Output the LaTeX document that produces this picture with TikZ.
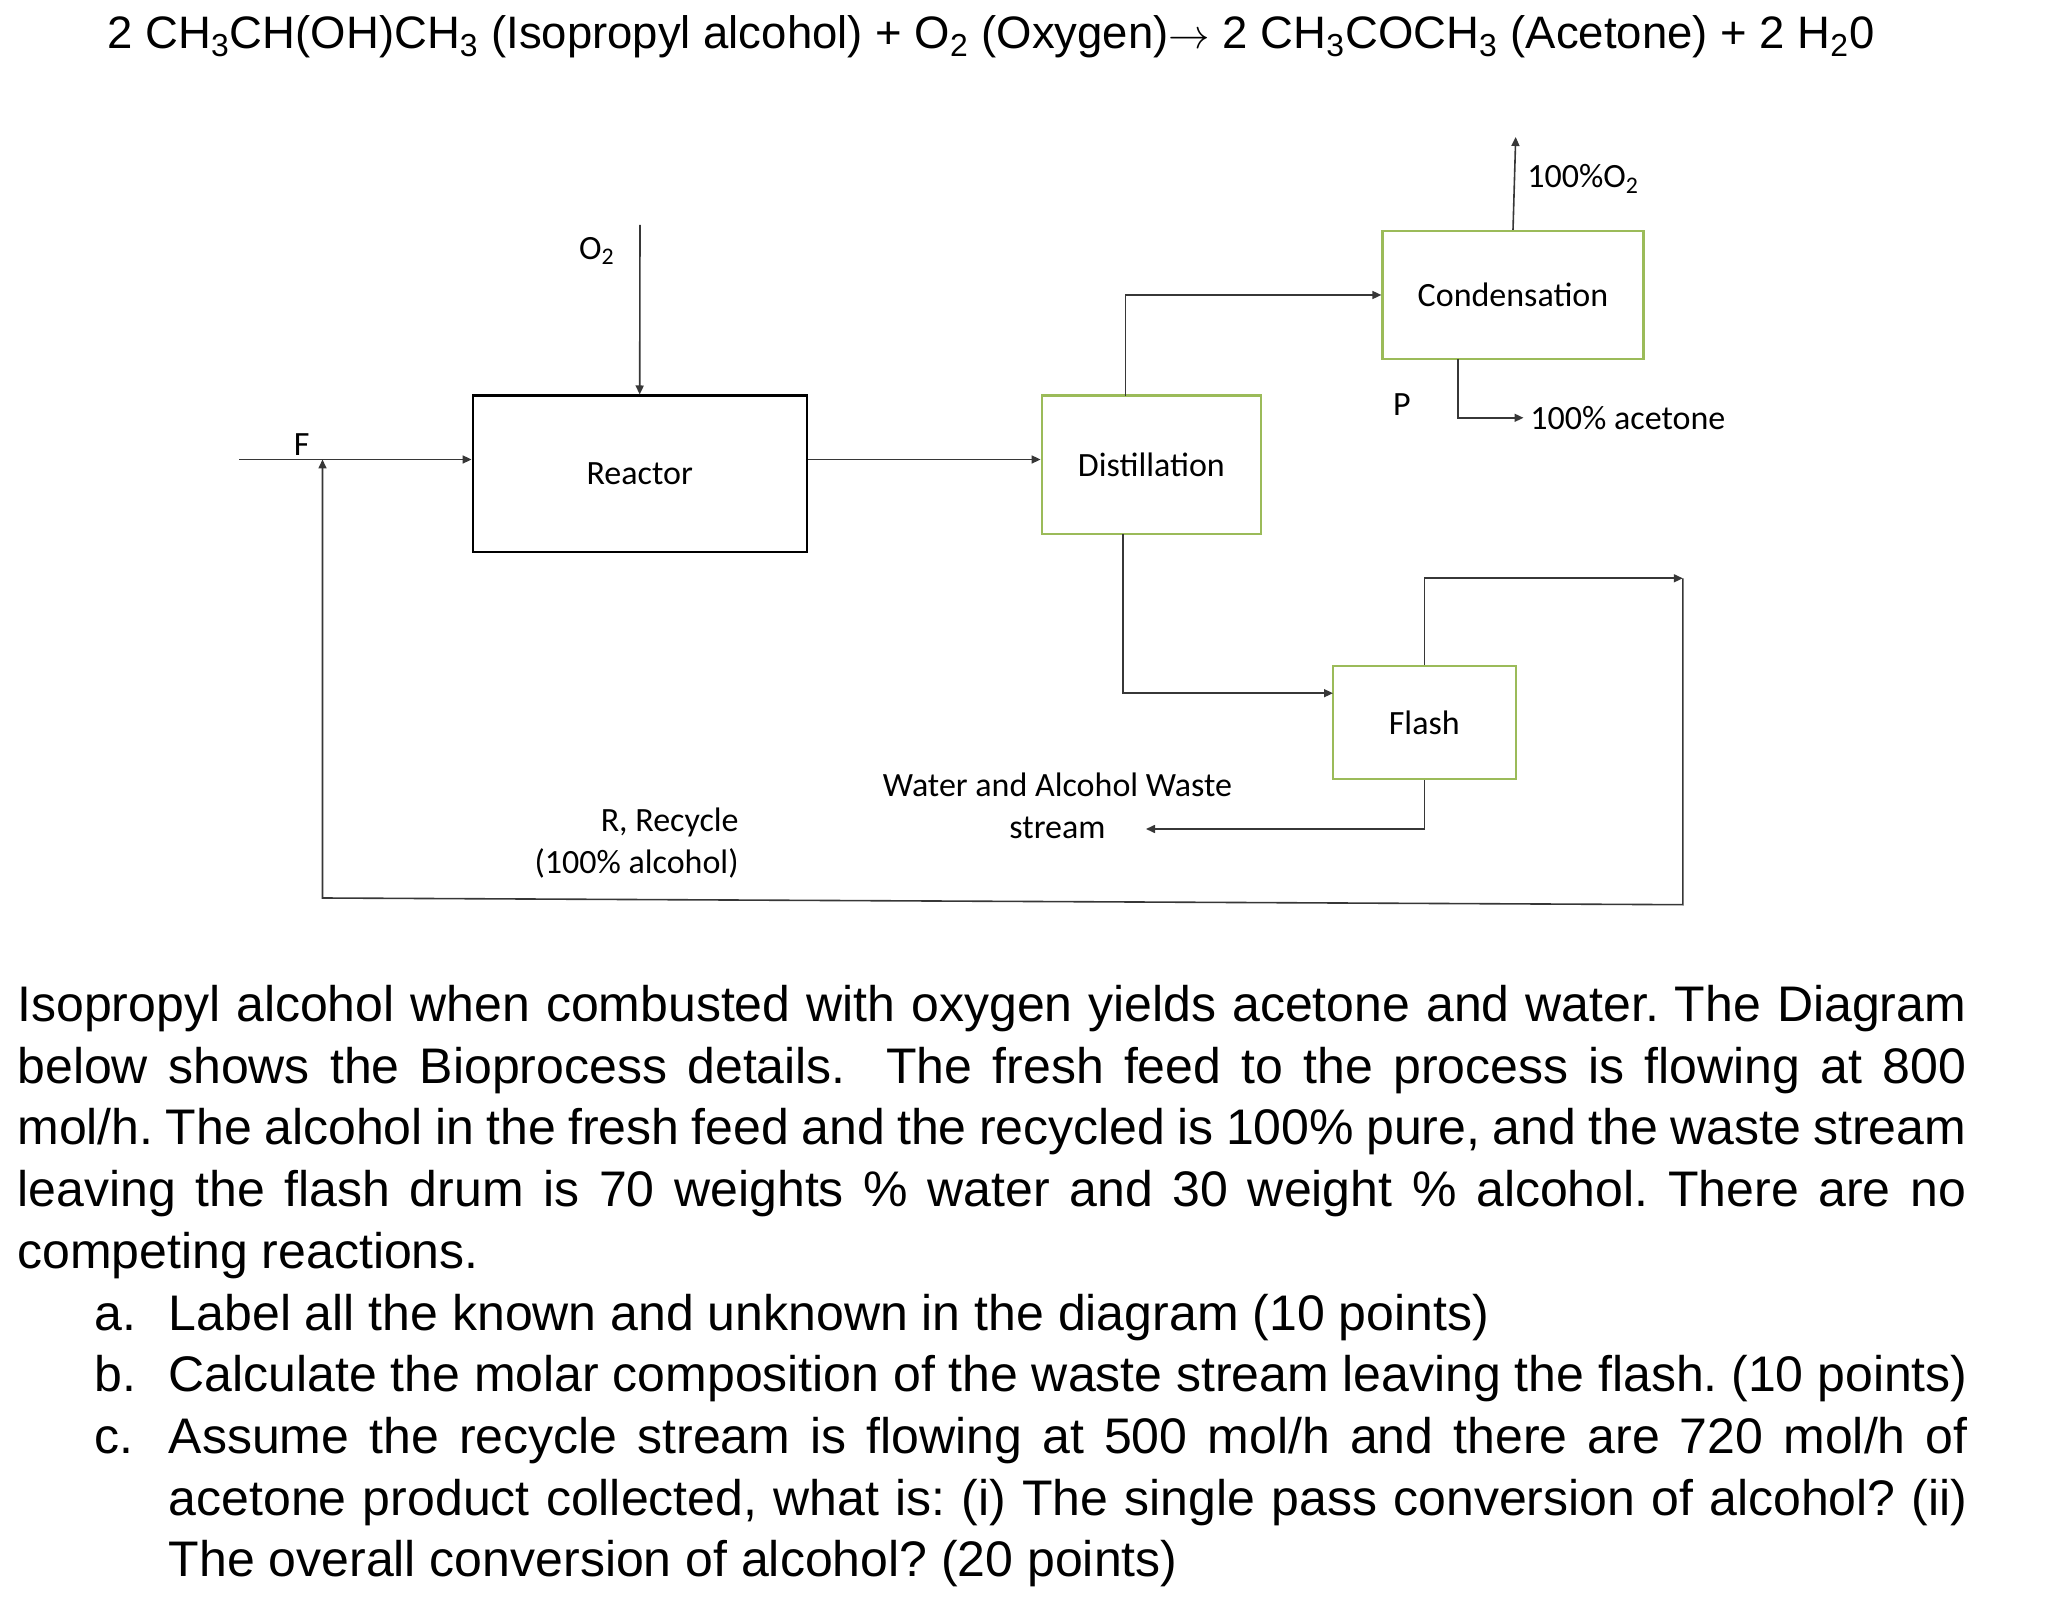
\documentclass[tikz,border=0pt]{standalone}
\usepackage{fontspec}
\setmainfont{Liberation Sans}[WordSpace={1,1.5,0.55}]
\newfontfamily\diagfont{Carlito}
\usetikzlibrary{arrows.meta}
\definecolor{unitgreen}{RGB}{155,187,89}
\definecolor{streamgray}{RGB}{55,55,55}
\newcommand{\jline}[2][974.5pt]{{\spaceskip=0pt\xspaceskip=0pt\makebox[#1][s]{#2}}\\}
\newcommand{\sub}[1]{\textsubscript{#1}}
\frenchspacing

\begin{document}
\begin{tikzpicture}[x=0.5pt,y=-0.5pt,
    unit/.style={draw=unitgreen,line width=1.1pt,inner sep=0pt,
      font=\diagfont\fontsize{17pt}{21pt}\selectfont},
    tag/.style={inner sep=0pt,font=\diagfont\fontsize{17pt}{21pt}\selectfont},
    flow/.style={-{Triangle[length=4.5pt,width=4pt]},draw=streamgray,line width=0.8pt},
    prose/.style={inner sep=0pt,anchor=base west,align=justify,
      font=\fontsize{25pt}{30.85pt}\selectfont}
  ]
    \useasboundingbox (0,0) rectangle (2047,1620);

    \node[inner sep=0pt,anchor=base,font=\fontsize{22.75pt}{28pt}\selectfont] (rxn) at (991,48.3)
      {2 CH\sub{3}CH(OH)CH\sub{3} (Isopropyl alcohol) + O\sub{2} (Oxygen)$\rightarrow$ 2 CH\sub{3}COCH\sub{3} (Acetone) + 2 H\sub{2}0};

    \node[unit,draw=black,minimum width=167pt,minimum height=78.3pt] (reactor) at (639.7,473.9) {Reactor};
    \node[unit,minimum width=109.7pt,minimum height=69.2pt] (dist) at (1151.4,464.8) {Distillation};
    \node[unit,minimum width=130.5pt,minimum height=64pt] (cond) at (1513,295) {Condensation};
    \node[unit,minimum width=91.4pt,minimum height=56.8pt] (flash) at (1424.3,722.6) {Flash};

    \node[tag] (o2lbl) at (597,251) {O\sub{2}};
    \node[tag] (flbl) at (301.6,445) {F};
    \node[tag] (plbl) at (1402,404.7) {P};
    \node[tag,anchor=west] (ventlbl) at (1527,179) {100\%O\sub{2}};
    \node[tag,anchor=west] (prodlbl) at (1530,418) {100\% acetone};
    \node[tag,align=center] (wastelbl) at (1057.5,805.5) {Water and Alcohol Waste\\stream};
    \node[tag,align=right,anchor=east] (recyclbl) at (739,843.4) {R, Recycle\\(100\% alcohol)};

    \coordinate (fin) at (239,459.5);
    \coordinate (o2in) at (640,225);
    \coordinate (dtop) at (1125.3,395.6);
    \coordinate (dbot) at (1122.7,534);
    \coordinate (fwest) at (1333,693.2);
    \coordinate (vent) at (1515.7,137);
    \coordinate (cbot) at (1458,359);
    \coordinate (prod) at (1523.5,417.8);
    \coordinate (rturn) at (1682.8,578.3);
    \coordinate (rcorner) at (1682.8,904.7);
    \coordinate (lcorner) at (322.5,898);
    \coordinate (waste) at (1146,829);

    \draw[flow] (fin) -- (fin -| reactor.west);
    \draw[flow] (o2in) -- (reactor.north);
    \draw[flow] (reactor.east |- fin) -- (fin -| dist.west);
    \draw[flow] (dtop) |- (cond.west);
    \draw[flow] (cond.north) -- (vent);
    \draw[flow] (cbot) |- (prod);
    \draw[flow] (dbot) |- (fwest);
    \draw[flow] (flash.north) |- (rturn);
    \draw[flow] (flash.south) |- (waste);
    \draw[flow] (rturn) -- (rcorner) -- (lcorner) -- (lcorner |- fin);

    \node[prose,text width=974.5pt] (desc) at (17,1021.5) {%
      \jline{Isopropyl alcohol when combusted with oxygen yields acetone and water. The Diagram}
      \jline{below shows the Bioprocess details.\ \ The fresh feed to the process is flowing at 800}
      \jline{mol/h. The alcohol in the fresh feed and the recycled is 100\% pure, and the waste stream}
      \jline{leaving the flash drum is 70 weights \% water and 30 weight \% alcohol. There are no}
      competing reactions.};

    \node[prose] (ka) at (94,1330) {a.};
    \node[prose] (qa) at (168.4,1330) {Label all the known and unknown in the diagram (10 points)};
    \node[prose] (kb) at (94,1391.7) {b.};
    \node[prose] (qb) at (168.4,1391.7) {\makebox[899.5pt][s]{Calculate the molar composition of the waste stream leaving the flash. (10 points)}};
    \node[prose] (kc) at (94,1453.4) {c.};
    \node[prose,text width=899.5pt] (qc) at (168.4,1453.4) {%
      \jline[899.5pt]{Assume the recycle stream is flowing at 500 mol/h and there are 720 mol/h of}
      \jline[899.5pt]{acetone product collected, what is: (i) The single pass conversion of alcohol? (ii)}
      The overall conversion of alcohol? (20 points)};
  \end{tikzpicture}
\end{document}
